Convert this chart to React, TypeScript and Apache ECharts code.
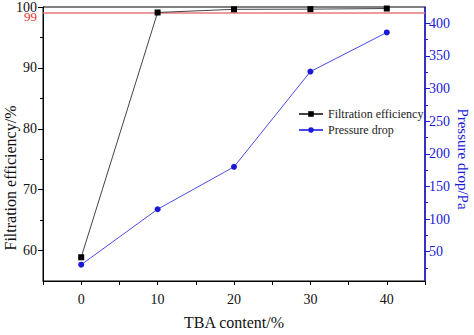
import React, { useEffect, useRef } from "react";
import * as echarts from "echarts";

const tbaContent = [0, 10, 20, 30, 40];
const filtrationEfficiency = [58.9, 99.1, 99.62, 99.65, 99.75];
const pressureDrop = [30, 115, 180, 326, 386];
const xLabels = [0, 10, 20, 30, 40];
const xTicks = [-5, 0, 5, 10, 15, 20, 25, 30, 35, 40, 45];
const leftLabels = [60, 70, 80, 90, 100];
const leftMinor = [65, 75, 85, 95];
const rightLabels = [50, 100, 150, 200, 250, 300, 350, 400];
const rightMinor = [25, 75, 125, 175, 225, 275, 325, 375];
const thresholdValue = 99;

const FONT = "'Liberation Serif', 'Times New Roman', serif";
const BLUE = "#1a1ad6";

export default function App() {
  const ref = useRef<HTMLDivElement>(null);
  useEffect(() => {
    if (!ref.current) return;
    const chart = echarts.init(ref.current, null, { renderer: "svg" });
    const leftBase = {
      type: "value",
      min: 55,
      max: 100,
      position: "left",
      splitLine: { show: false },
    };
    const rightBase = {
      type: "value",
      min: 5,
      max: 425,
      position: "right",
      splitLine: { show: false },
    };
    chart.setOption({
      animation: false,
      textStyle: { fontFamily: FONT },
      grid: {
        left: 43,
        right: 49,
        top: 5,
        bottom: 41,
        show: true,
        borderColor: "#000",
        borderWidth: 1,
        backgroundColor: "transparent",
      },
      legend: {
        left: 293,
        top: 103,
        orient: "vertical",
        itemWidth: 24,
        itemHeight: 7,
        itemGap: 4,
        textStyle: { fontFamily: FONT, fontSize: 12, color: "#222" },
        data: ["Filtration efficiency", "Pressure drop"],
      },
      xAxis: {
        type: "value",
        min: -5,
        max: 45,
        name: "TBA content/%",
        nameLocation: "middle",
        nameGap: 33,
        nameTextStyle: { fontFamily: FONT, fontSize: 16, color: "#111" },
        axisLine: { onZero: false, lineStyle: { color: "#000", width: 1 } },
        axisTick: { inside: false, length: 4, customValues: xTicks, lineStyle: { color: "#000" } },
        axisLabel: { customValues: xLabels, fontFamily: FONT, fontSize: 14, color: "#111", margin: 11 },
        splitLine: { show: false },
      },
      yAxis: [
        {
          ...leftBase,
          axisLine: { show: true, onZero: false, lineStyle: { color: "#000", width: 1 } },
          axisTick: { length: 5, customValues: leftLabels, lineStyle: { color: "#000" } },
          axisLabel: { customValues: leftLabels, fontFamily: FONT, fontSize: 14, color: "#111", margin: 6 },
        },
        {
          ...rightBase,
          axisLine: { show: true, onZero: false, lineStyle: { color: BLUE, width: 1.5 } },
          axisTick: { length: 5, customValues: rightLabels, lineStyle: { color: BLUE } },
          axisLabel: { customValues: rightLabels, fontFamily: FONT, fontSize: 14, color: BLUE, margin: 4 },
        },
        {
          ...leftBase,
          axisLine: { show: false, onZero: false },
          axisTick: { length: 3, customValues: leftMinor, lineStyle: { color: "#000" } },
          axisLabel: { show: false },
        },
        {
          ...rightBase,
          axisLine: { show: false, onZero: false },
          axisTick: { length: 3, customValues: rightMinor, lineStyle: { color: BLUE } },
          axisLabel: { show: false },
        },
      ],
      graphic: [
        {
          type: "text",
          x: 10,
          y: 178,
          rotation: Math.PI / 2,
          style: {
            text: "Filtration efficiency/%",
            font: `16px ${FONT}`,
            fill: "#111",
            align: "center",
            verticalAlign: "middle",
          },
        },
        {
          type: "text",
          x: 463,
          y: 159,
          rotation: -Math.PI / 2,
          style: {
            text: "Pressure drop/Pa",
            font: `15px ${FONT}`,
            fill: BLUE,
            align: "center",
            verticalAlign: "middle",
          },
        },
      ],
      series: [
        {
          name: "Filtration efficiency",
          type: "line",
          yAxisIndex: 0,
          data: tbaContent.map((x, i) => [x, filtrationEfficiency[i]]),
          symbol: "rect",
          symbolSize: 6,
          itemStyle: { color: "#000" },
          lineStyle: { color: "#444", width: 1 },
          z: 5,
          markLine: {
            silent: true,
            symbol: "none",
            lineStyle: { color: "#e87878", width: 1.5, type: "solid" },
            label: {
              position: "start",
              formatter: String(thresholdValue),
              color: "#e23030",
              fontFamily: FONT,
              fontSize: 13,
              distance: 6,
              offset: [0, 3],
            },
            data: [{ yAxis: thresholdValue }],
          },
        },
        {
          name: "Pressure drop",
          type: "line",
          yAxisIndex: 1,
          data: tbaContent.map((x, i) => [x, pressureDrop[i]]),
          symbol: "circle",
          symbolSize: 6,
          itemStyle: { color: BLUE },
          lineStyle: { color: "#4a4ae8", width: 1 },
          z: 4,
        },
      ],
    });
    return () => chart.dispose();
  }, []);
  return (
    <div
      ref={ref}
      style={{ position: "absolute", left: 0, top: 0, width: 474, height: 335 }}
    />
  );
}
